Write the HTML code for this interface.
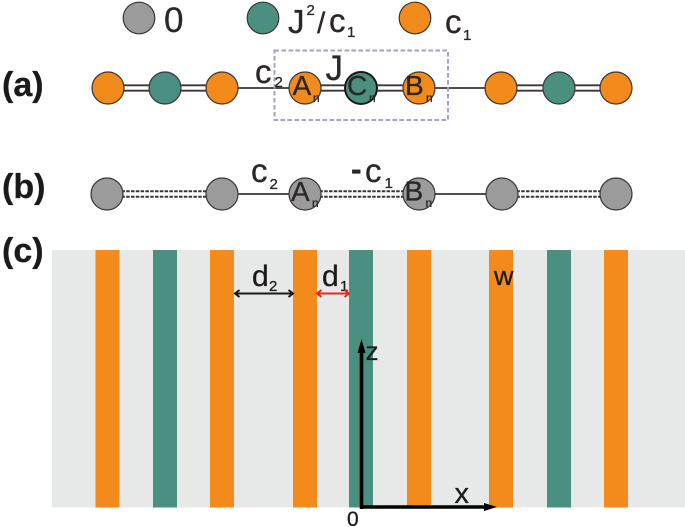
<!DOCTYPE html>
<html><head><meta charset="utf-8">
<style>html,body{margin:0;padding:0;background:#fff}svg{display:block}text{font-family:"Liberation Sans",sans-serif;fill:#2b2726;stroke:#2b2726;stroke-width:.3px}</style>
</head><body>
<svg width="685" height="527" viewBox="0 0 685 527" xmlns="http://www.w3.org/2000/svg">
<!-- panel c -->
<rect x="52" y="250" width="633" height="257.500" fill="#e7e8e8"/>
<g fill="#f28a1c">
<rect x="95.500" y="250" width="24" height="257.500"/>
<rect x="210" y="250" width="24" height="257.500"/>
<rect x="293" y="250" width="24" height="257.500"/>
<rect x="407" y="250" width="24" height="257.500"/>
<rect x="489" y="250" width="24" height="257.500"/>
<rect x="604" y="250" width="24" height="257.500"/>
</g>
<g fill="#4a8f7f">
<rect x="153" y="250" width="24" height="257.500"/>
<rect x="349" y="250" width="24" height="257.500"/>
<rect x="547" y="250" width="24" height="257.500"/>
</g>
<!-- row a lines -->
<g stroke="#3a3536" fill="none">
<path d="M108 85.300H222M108 90.700H222M305 85.300H419M305 90.700H419M501 85.300H616M501 90.700H616" stroke-width="1.800"/>
<path d="M222 88H305M419 88H501" stroke-width="1.800"/>
</g>
<rect x="274.500" y="50.500" width="173.500" height="69.500" fill="none" stroke="#a79fc6" stroke-width="2" stroke-dasharray="4.500 2.500"/>
<!-- row a circles -->
<g stroke="#3a3536" stroke-width="1.200">
<circle cx="108" cy="88" r="16" fill="#f28a1c"/>
<circle cx="165" cy="88" r="16" fill="#4a8f7f"/>
<circle cx="222" cy="88" r="16" fill="#f28a1c"/>
<circle cx="305" cy="88" r="16" fill="#f28a1c"/>
<circle cx="361" cy="88" r="16" fill="#4a8f7f" stroke="#1a1a1a" stroke-width="2"/>
<circle cx="419" cy="88" r="16" fill="#f28a1c"/>
<circle cx="501" cy="88" r="16" fill="#f28a1c"/>
<circle cx="559" cy="88" r="16" fill="#4a8f7f"/>
<circle cx="616" cy="88" r="16" fill="#f28a1c"/>
<!-- legend -->
<circle cx="139" cy="18" r="15.800" fill="#9b9b9b"/>
<circle cx="263" cy="18" r="15.800" fill="#4a8f7f"/>
<circle cx="415" cy="18" r="15.800" fill="#f28a1c"/>
</g>
<!-- row b lines -->
<g fill="none" stroke="#3a3536">
<path d="M107 191.200H222M107 196.800H222M305 191.200H419M305 196.800H419M502 191.200H616M502 196.800H616" stroke-width="2" stroke-dasharray="3.500 1.300"/>
<path d="M222 194H305M419 194H502" stroke-width="1.800"/>
</g>
<g stroke="#3a3536" stroke-width="1.200" fill="#9b9b9b">
<circle cx="107" cy="194" r="16"/>
<circle cx="222" cy="194" r="16"/>
<circle cx="305" cy="194" r="16"/>
<circle cx="419" cy="194" r="16"/>
<circle cx="502" cy="194" r="16"/>
<circle cx="616" cy="194" r="16"/>
</g>
<!-- legend text -->
<text x="164" y="32" font-size="35">0</text>
<text x="288" y="33" font-size="33">J</text>
<text x="306.500" y="15" font-size="15">2</text>
<text x="317" y="33" font-size="30">/</text>
<text x="329" y="32" font-size="33">c</text>
<text x="347" y="37" font-size="15">1</text>
<text x="445" y="33" font-size="33">c</text>
<text x="463" y="40" font-size="15">1</text>
<!-- row a labels -->
<text x="255" y="83" font-size="33">c</text>
<text x="274.500" y="87" font-size="15">2</text>
<text x="325.500" y="80" font-size="35">J</text>
<text x="292.500" y="95" font-size="28">A</text>
<text x="313" y="102" font-size="12">n</text>
<text x="347" y="95" font-size="28">C</text>
<text x="369" y="102" font-size="12">n</text>
<text x="405" y="95" font-size="28">B</text>
<text x="426" y="102" font-size="12">n</text>
<!-- row b labels -->
<text x="251" y="182" font-size="33">c</text>
<text x="269.500" y="189" font-size="15">2</text>
<text x="291" y="201" font-size="28">A</text>
<text x="312" y="207" font-size="12">n</text>
<text x="351" y="180" font-size="32" font-weight="700">-</text>
<text x="365" y="182" font-size="33">c</text>
<text x="384.500" y="188" font-size="15">1</text>
<text x="404.500" y="200.500" font-size="28">B</text>
<text x="425.500" y="207" font-size="12">n</text>
<!-- panel labels -->
<text x="2" y="96" font-size="34" font-weight="700" style="fill:#1a1a1a">(a)</text>
<text x="2" y="198" font-size="34" font-weight="700" style="fill:#1a1a1a">(b)</text>
<text x="2" y="262" font-size="34" font-weight="700" style="fill:#1a1a1a">(c)</text>
<!-- dims -->
<text x="252" y="286" font-size="30" style="fill:#1a1a1a">d</text>
<text x="269" y="291" font-size="15" style="fill:#1a1a1a">2</text>
<text x="322" y="286" font-size="30" style="fill:#1a1a1a">d</text>
<text x="340" y="291" font-size="15" style="fill:#1a1a1a">1</text>
<text x="494" y="285" font-size="27" style="fill:#1a1a1a">w</text>
<g fill="none" stroke-width="2">
<path d="M236 293.500H292M239.500 290L235 293.500L239.500 297M288.500 290L293 293.500L288.500 297" stroke="#1a1a1a"/>
<path d="M318 293.500H348M321.500 290L317 293.500L321.500 297M344.500 290L349 293.500L344.500 297" stroke="#d8301c"/>
</g>
<!-- axes -->
<path d="M361.500 509V350" stroke="#000" stroke-width="3.600"/>
<path d="M361.500 339L365.500 353H357.500Z" fill="#000"/>
<path d="M360 507H488" stroke="#000" stroke-width="3.600"/>
<path d="M497 507L484 503V511Z" fill="#000"/>
<text x="365.500" y="360" font-size="26" style="fill:#1a1a1a">z</text>
<text x="454.500" y="503" font-size="29" style="fill:#1a1a1a">x</text>
<text x="347" y="526" font-size="21" style="fill:#1a1a1a">0</text>
</svg>
</body></html>
